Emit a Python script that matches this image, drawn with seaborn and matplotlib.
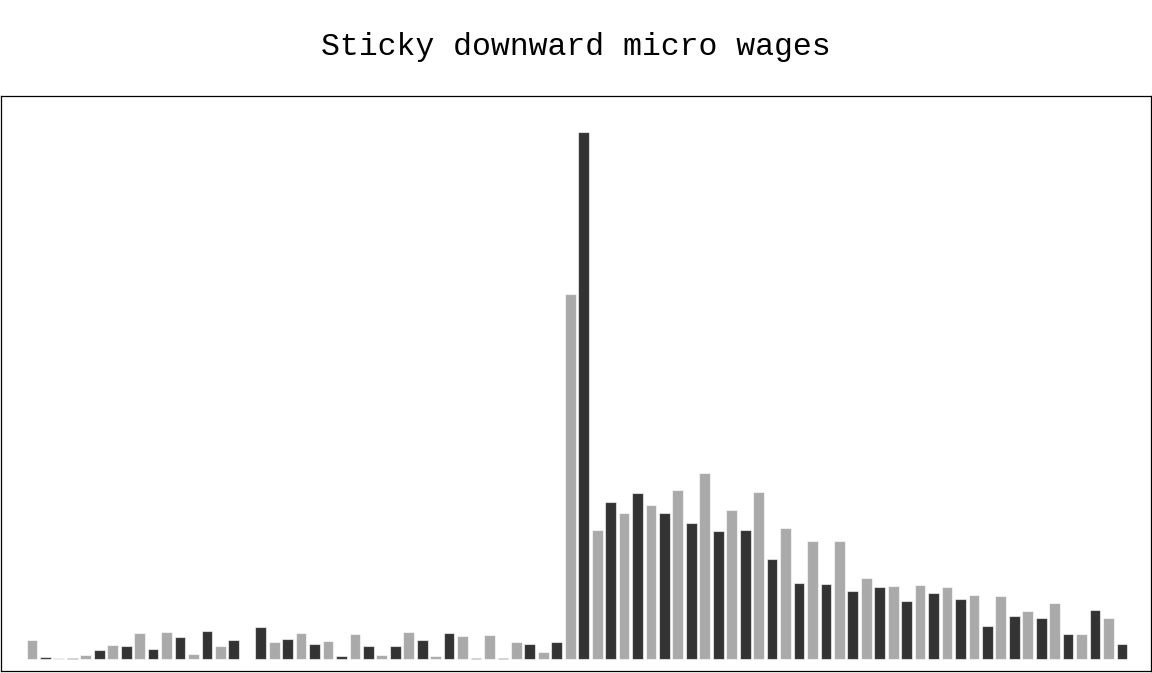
import pandas as pd
import matplotlib
matplotlib.use("Agg")
import matplotlib.pyplot as plt
import seaborn as sns

# Balkenhoehen (von links nach rechts), abwechselnd hell / dunkel
werte = [1.9, 0.2, 0.1, 0.1, 0.4, 0.9, 1.4, 1.3, 2.6, 1.0,
         2.7, 2.2, 0.5, 2.8, 1.3, 1.9, 0.0, 3.2, 1.7, 2.0,
         2.6, 1.5, 1.8, 0.3, 2.5, 1.3, 0.4, 1.3, 2.7, 1.9,
         0.3, 2.6, 2.3, 0.1, 2.4, 0.1, 1.7, 1.5, 0.7, 1.7,
         36.5, 52.7, 12.9, 15.7, 14.6, 16.6, 15.4, 14.6, 16.9, 13.6,
         18.6, 12.8, 14.9, 12.9, 16.7, 10.0, 13.1, 7.6, 11.8, 7.5,
         11.8, 6.8, 8.1, 7.2, 7.3, 5.8, 7.4, 6.6, 7.2, 6.0,
         6.4, 3.3, 6.3, 4.3, 4.8, 4.1, 5.6, 2.5, 2.5, 4.9,
         4.1, 1.5]
gruppen = ["hell", "dunkel"]
farben = {"hell": "#aaaaaa", "dunkel": "#333333"}

df = pd.DataFrame({
    "bin": range(len(werte)),
    "wert": werte,
    "gruppe": [gruppen[i % 2] for i in range(len(werte))],
})

sns.set_style("white")
plt.rcParams['font.family'] = ['Liberation Mono', 'DejaVu Sans Mono']

fig = plt.figure(figsize=(11.52, 6.73), dpi=100)
ax = fig.add_axes([1 / 1152, 2 / 673, 1150 / 1152, 575 / 673])

sns.barplot(data=df, x="bin", y="wert", hue="gruppe", palette=farben,
            dodge=False, width=0.8, legend=False, ax=ax,
            edgecolor=(1, 1, 1, 0.6), linewidth=0.8)

ax.set_xlim(-2.3, 83.16)
ax.set_ylim(-1.17, 56.33)
ax.set_xticks([])
ax.set_yticks([])
ax.set_xlabel("")
ax.set_ylabel("")
for s in ax.spines.values():
    s.set_color("black")
    s.set_linewidth(0.9)

fig.text(0.5, 1 - 47.5 / 673, "Sticky downward micro wages",
         ha="center", va="center", fontsize=22.7, color="black")

fig.savefig("out.png", dpi=100)
